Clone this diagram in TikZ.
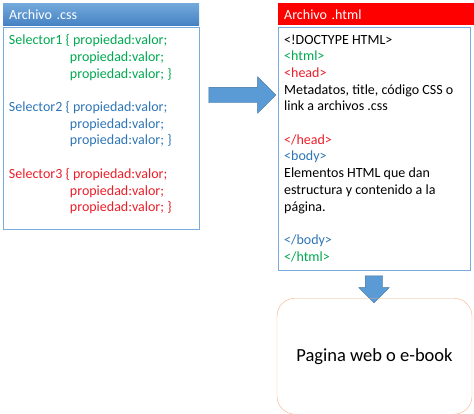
\documentclass[tikz,border=0pt]{standalone}
\usepackage{fontspec}
\setmainfont{Carlito}
\usetikzlibrary{positioning, shapes.arrows}
\definecolor{headblue}{RGB}{91, 155, 213}
\definecolor{headbluedark}{RGB}{70, 130, 195}
\definecolor{boxblue}{RGB}{120, 170, 220}
\definecolor{arrowblue}{RGB}{91, 155, 213}
\definecolor{arrowedge}{RGB}{65, 113, 156}
\definecolor{htmlred}{RGB}{255, 0, 0}
\definecolor{codegreen}{RGB}{0, 168, 80}
\definecolor{codeblue}{RGB}{46, 117, 182}
\definecolor{codered}{RGB}{235, 30, 40}
\definecolor{pageorange}{RGB}{244, 177, 131}
\newcommand{\sangria}{\hspace*{61pt}}

\begin{document}
\begin{tikzpicture}[
        x=1pt, y=-1pt,
        head/.style={rectangle, anchor=north west, text width=184pt, inner xsep=6pt,
            inner ysep=0pt, minimum height=22pt, align=left, text=white,
            font=\fontsize{14}{16}\selectfont},
        filebox/.style={rectangle, draw=boxblue, thick, inner sep=0pt},
        code/.style={anchor=north west, align=left, inner sep=0pt,
            font=\fontsize{14}{16.7}\selectfont},
        blockarrow/.style={single arrow, fill=arrowblue, draw=arrowedge, thin,
            inner xsep=0pt, single arrow head indent=0pt}
        ]
        \useasboundingbox (0,0) rectangle (474,413);

        % archivo css
        \node[head, top color=headblue!85, bottom color=headbluedark] (csshead) at (3,3) {Archivo .css};
        \node[filebox, below=2pt of csshead, minimum width=196pt, minimum height=202pt] (cssbody) {};
        \node[code] (csscode) at ([xshift=6pt, yshift=-7pt]cssbody.north west) {%
            \color{codegreen}Selector1 \{ propiedad:valor;\\
            \color{codegreen}\sangria propiedad:valor;\\
            \color{codegreen}\sangria propiedad:valor; \}\\[16.7pt]
            \color{codeblue}Selector2 \{ propiedad:valor;\\
            \color{codeblue}\sangria propiedad:valor;\\
            \color{codeblue}\sangria propiedad:valor; \}\\[16.7pt]
            \color{codered}Selector3 \{ propiedad:valor;\\
            \color{codered}\sangria propiedad:valor;\\
            \color{codered}\sangria propiedad:valor; \}};

        % archivo html
        \node[head, fill=htmlred] (htmlhead) at (278,3) {Archivo .html};
        \node[filebox, below=2pt of htmlhead.south west, anchor=north west,
            minimum width=192pt, minimum height=243pt] (htmlbody) {};
        \node[code] (htmlcode) at ([xshift=6pt, yshift=-7pt]htmlbody.north west) {%
            <!DOCTYPE HTML>\\
            \color{codegreen}<html>\\
            \color{codered}<head>\\
            Metadatos, title, código CSS o\\
            link a archivos .css\\[16.7pt]
            \color{codered}</head>\\
            \color{codeblue}<body>\\
            Elementos HTML que dan\\
            estructura y contenido a la\\
            página.\\[16.7pt]
            \color{codeblue}</body>\\
            \color{codegreen}</html>};

        % flechas y pagina
        \node[blockarrow, minimum height=67pt, inner ysep=7.5pt,
            single arrow head extend=10.5pt] (toright) at (238.5,95) {};
        \node[blockarrow, rotate=-90, minimum height=27pt, inner ysep=8.5pt,
            single arrow head extend=6.5pt] (todown) at (374,285) {};
        \node[rectangle, draw=pageorange, rounded corners=18pt, minimum width=195pt,
            minimum height=116pt, anchor=north, font=\fontsize{18.5}{22}\selectfont] (page)
            at (374.5,298) {Pagina web o e-book};
    \end{tikzpicture}
\end{document}
